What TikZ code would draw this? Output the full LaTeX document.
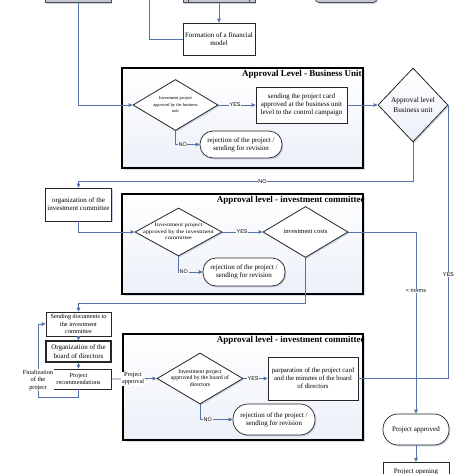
\documentclass[tikz,border=0pt]{standalone}
\usepackage{fontspec}
\setmainfont{Liberation Serif}
\newfontfamily\lsans{Liberation Sans}
\newfontfamily\wideserif[FakeStretch=1.25]{Liberation Serif}
\usetikzlibrary{shapes.geometric,arrows.meta,shadows}
\definecolor{lineblue}{RGB}{84,116,170}
\definecolor{groupfill}{RGB}{236,240,248}
\definecolor{shadowc}{RGB}{190,202,224}
\definecolor{topgray}{RGB}{196,200,210}
\newcommand\dtxt[1]{\makebox[36pt]{\begin{tabular}{@{}c@{}}#1\end{tabular}}}
\begin{document}
\begin{tikzpicture}[x=1pt,y=-1pt,
  conn/.style={draw=lineblue,line width=0.8pt},
  arr/.style={conn,-{Triangle[length=4pt,width=3.6pt]}},
  shad/.style={drop shadow={shadow xshift=1.3pt,shadow yshift=-1.3pt,fill=shadowc,opacity=0.8}},
  proc/.style={rectangle,draw=black!85,line width=0.7pt,fill=white,shad,align=center,inner sep=1pt,font=\fontsize{7}{8}\selectfont},
  term/.style={proc,rounded corners=13pt},
  dec/.style={diamond,draw=black!85,line width=0.8pt,fill=white,shad,align=center,inner sep=0pt},
  group/.style={rectangle,draw=black,line width=1.5pt,top color=white,bottom color=groupfill,drop shadow={shadow xshift=1.5pt,shadow yshift=-1.5pt,fill=shadowc,opacity=0.6},inner sep=0pt},
  gtitle/.style={anchor=north east,font=\fontsize{9}{10}\selectfont\bfseries,inner sep=1pt},
  lbl/.style={font=\lsans\fontsize{5.5}{6}\selectfont,fill=white,inner sep=0.6pt},
  slbl/.style={font=\fontsize{6.3}{7.5}\selectfont,fill=white,inner sep=0.6pt,align=center},
  topbox/.style={rectangle,draw=black!70,line width=0.7pt,fill=topgray,shad,inner sep=0pt}
]
\useasboundingbox (0,0) rectangle (474,474);
\clip (0,0) rectangle (474,474);
\fill[white] (0,0) rectangle (474,474);

% groups
\node[group,minimum width=241pt,minimum height=100pt] (g1) at (242.5,118) {};
\node[gtitle] (t1) at ([xshift=-1pt,yshift=-1.5pt]g1.north east) {Approval Level - Business Unit};
\node[group,minimum width=241pt,minimum height=100pt] (g2) at (242.5,244) {};
\node[gtitle] (t2) at ([xshift=2pt,yshift=-1.5pt]g2.north east) {Approval level - investment committee};
\node[group,minimum width=240pt,minimum height=106pt] (g3) at (243,387) {};
\node[gtitle] (t3) at ([xshift=2pt,yshift=-2pt]g3.north east) {Approval level - investment committee};

% top boxes (cut off)
\node[topbox,minimum width=66pt,minimum height=30pt] (A) at (78,-12.5) {};
\node[topbox,minimum width=72pt,minimum height=30pt] (B) at (219,-12.5) {};
\draw[black!70,line width=0.6pt] ([xshift=6pt]B.south west) -- ([xshift=6pt]B.north west)
  ([xshift=-6pt]B.south east) -- ([xshift=-6pt]B.north east);
\node[topbox,rounded corners=4pt,minimum width=62pt,minimum height=30pt] (C) at (346,-12.5) {};

\node[proc,minimum width=72pt,minimum height=32pt] (form) at (219,39) {Formation of a financial\\model};

% business unit level
\node[dec,aspect=1.67,minimum width=85pt,minimum height=51pt,font=\fontsize{4.4}{6.3}\selectfont] (d1) at (175.5,105) {\dtxt{Investment project\\approved by the business\\unit}};
\node[proc,minimum width=91pt,minimum height=36pt] (s1) at (301.5,105) {sending the project card\\approved at the business unit\\level to the control campaign};
\node[term,minimum width=82pt,minimum height=27pt] (rej1) at (241,144.5) {rejection of the project /\\sending for revision};
\node[dec,aspect=0.95,minimum width=70pt,minimum height=74pt,font=\fontsize{7.3}{10}\selectfont,top color=white,bottom color=groupfill] (d2) at (413,105) {\dtxt{Approval level\\Business unit}};

% left column
\node[proc,minimum width=66pt,minimum height=33pt] (org) at (78.5,204.5) {organization of the\\investment committee};
\node[proc,minimum width=65pt,minimum height=24pt,font=\fontsize{6.3}{7.5}\selectfont] (send) at (78.5,324) {Sending documents to\\the investment\\committee};
\node[proc,minimum width=65pt,minimum height=21pt,line width=1.1pt,font=\fontsize{7}{8.3}\selectfont] (board) at (78.5,351.5) {Organization of the\\board of directors};
\node[proc,minimum width=65pt,minimum height=20pt,font=\fontsize{6.2}{7.3}\selectfont] (rec) at (78.5,379) {Project\\recommendations};

% investment committee level
\node[dec,aspect=1.8,minimum width=87pt,minimum height=48pt,font=\wideserif\fontsize{5.1}{6.3}\selectfont] (d3) at (178.5,232) {\dtxt{Investment project\\approved by the investment\\committee}};
\node[dec,aspect=1.67,minimum width=85pt,minimum height=51pt,font=\fontsize{6.6}{8}\selectfont] (d4) at (305.5,232) {\dtxt{investment costs}};
\node[term,minimum width=82pt,minimum height=28pt] (rej2) at (244,272) {rejection of the project /\\sending for revision};

% board level
\node[dec,aspect=1.69,minimum width=86pt,minimum height=51pt,font=\fontsize{5.8}{6.7}\selectfont] (d5) at (200,378.5) {\dtxt{Investment project\\approved by the board of\\directors}};
\node[proc,minimum width=90pt,minimum height=43pt,font=\fontsize{6.8}{8}\selectfont] (prep) at (313,378.5) {parparation of the project card\\and the minutes of the board\\of directors};
\node[term,minimum width=82pt,minimum height=31pt,rounded corners=15pt] (rej3) at (274,419.5) {rejection of the project /\\sending for revision};

% right column
\node[term,minimum width=66pt,minimum height=31pt,rounded corners=15pt] (appr) at (416,429.5) {Project approved};
\node[proc,anchor=north,minimum width=66pt,inner ysep=7pt,text height=4.5pt,text depth=20pt] (open) at (416,462) {Project opening};

% connectors
\draw[arr] (A.south) |- (d1.west);
\draw[arr] (B.south) -- (form.north);
\coordinate (fup) at (149,-10);
\draw[conn] (form.west) -| (fup);
\draw[arr] (d1.east) -- node[lbl,pos=0.45]{YES} (s1.west);
\draw[arr] (s1.east) -- (d2.west);
\draw[arr] (d1.south) |- node[lbl,pos=0.65]{NO} (rej1.west);
\draw[arr] (d2.south) -- ++(0,39) -| node[lbl,pos=0.225]{NO} (org.north);
\draw[conn] (d2.east) |- node[lbl,pos=0.31]{YES} (prep.east);
\draw[arr] (org.south) |- (d3.west);
\draw[arr] (d3.east) -- node[lbl,pos=0.49]{YES} (d4.west);
\draw[arr] (d3.south) |- node[lbl,pos=0.61]{NO} (rej2.west);
\draw[arr] (d4.south) -- ++(0,45.5) -| (send.north);
\draw[arr] (d4.east) -| node[lbl,pos=0.662]{< norms} (appr.north);
\draw[arr] (send.south) -- (board.north);
\draw[arr] (board.south) -- (rec.north);
\coordinate (lp) at (38,397);
\draw[arr] (rec.south) |- (lp) |- node[slbl,pos=0.116]{Finalization\\of the\\project} (send.west);
\draw[arr] (rec.east) -- node[slbl,pos=0.48]{Project\\approval} (d5.west);
\draw[arr] (d5.east) -- node[lbl,pos=0.4]{YES} (prep.west);
\draw[arr] (d5.south) |- node[lbl,pos=0.62]{NO} (rej3.west);
\draw[arr] (appr.south) -- (open.north);
\end{tikzpicture}
\end{document}
